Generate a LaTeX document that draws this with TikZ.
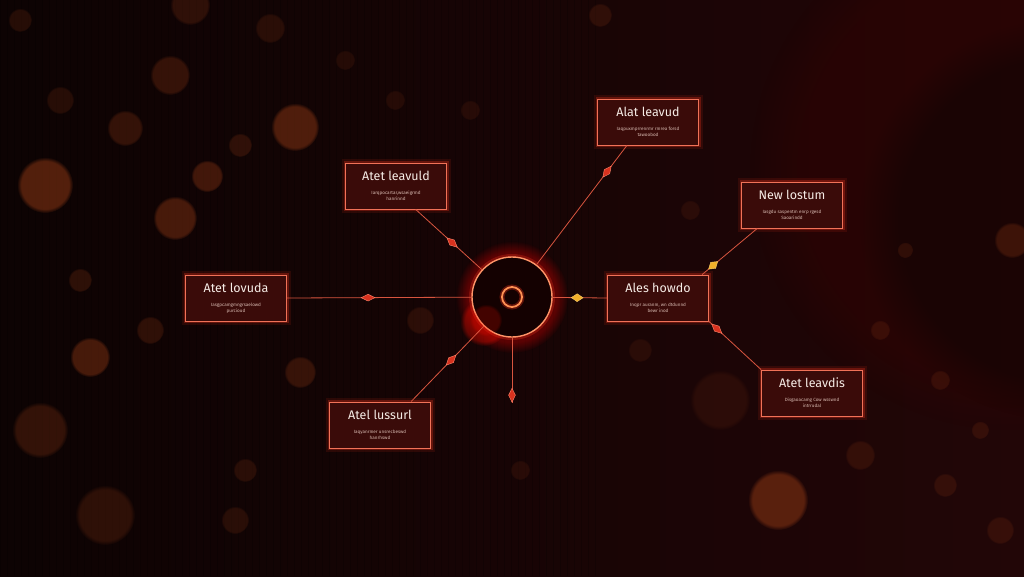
\documentclass[tikz,border=0pt]{standalone}
\usepackage{fontspec}
\setmainfont{Fira Sans}
\usetikzlibrary{shapes.geometric,fadings,calc}
\definecolor{bg}{HTML}{120404}
\definecolor{bgr}{HTML}{220607}
\definecolor{bokeh}{HTML}{8C3714}
\definecolor{boxfill}{HTML}{3A0B09}
\definecolor{boxline}{HTML}{F07258}
\definecolor{glow}{HTML}{E8301A}
\definecolor{wire}{HTML}{D8553F}
\definecolor{mark}{HTML}{D8321F}
\definecolor{markl}{HTML}{FF8A70}
\definecolor{gold}{HTML}{F2B02A}
\definecolor{ring}{HTML}{FF9468}
\definecolor{ttl}{HTML}{F6ECE6}
\definecolor{sub}{HTML}{D9BBB2}
\tikzset{
  infobox/.style={rectangle, draw=boxline, line width=0.9pt, fill=boxfill,
    minimum width=101pt, minimum height=46pt, inner sep=2pt, align=center,
    preaction={draw=glow, line width=8pt, opacity=0.12},
    preaction={draw=glow, line width=4pt, opacity=0.3}},
  wireline/.style={draw=wire, line width=0.8pt},
  markr/.style={diamond, sloped, inner sep=0pt, minimum width=14pt, minimum height=7pt,
    fill=mark, draw=markl, line width=0.4pt},
  marky/.style={diamond, sloped, inner sep=0pt, minimum width=12pt, minimum height=8pt,
    fill=gold, draw=gold!70!white, line width=0.4pt},
}
\newcommand{\boxtext}[3]{\fontsize{12.5}{14}\selectfont\color{ttl}#1\\[2pt]%
  \fontsize{4.6}{5.4}\selectfont\color{sub}#2\\[-6pt]\fontsize{4.6}{5.4}\selectfont\color{sub}#3}
\begin{document}
\begin{tikzpicture}[x=1pt,y=-1pt]
\useasboundingbox (0,0) rectangle (1024,576);
% background
\shade[left color=bg!70!black, right color=bgr] (0,0) rectangle (1024,576);
\fill[bgr!80!red!60!black, path fading=circle with fuzzy edge 20 percent, opacity=0.55] (1010,170) circle (260pt);
\fill[bg, path fading=circle with fuzzy edge 20 percent, opacity=0.6] (1060,220) circle (200pt);
\foreach \x in {0,7,...,600} \draw[black, opacity=0.18, line width=0.6pt] (\x,0) -- (\x,576);
% bokeh
\foreach \x/\y/\r/\o in {45/185/28/0.55, 175/218/22/0.45, 90/357/20/0.45, 295/127/24/0.5,
  170/75/20/0.3, 207/176/16/0.4, 125/128/18/0.3, 240/145/12/0.25, 60/100/14/0.2,
  150/330/14/0.25, 80/280/12/0.25, 300/372/16/0.3, 420/320/14/0.2, 778/500/30/0.55,
  40/430/28/0.3, 105/515/30/0.25, 270/28/15/0.2, 190/5/20/0.25, 1012/240/18/0.3,
  860/455/15/0.2, 720/400/30/0.15, 940/380/10/0.2, 880/330/10/0.2, 1000/530/14/0.2,
  640/350/12/0.15, 520/470/10/0.15, 945/485/12/0.2, 600/15/12/0.2, 470/110/10/0.15,
  395/100/10/0.15, 235/520/14/0.2, 20/20/12/0.2, 345/60/10/0.15, 905/250/8/0.2,
  980/430/9/0.2, 245/470/12/0.2, 690/210/10/0.15}
  \fill[bokeh, opacity=\o, path fading=circle with fuzzy edge 15 percent] (\x,\y) circle (\r pt);
% center glow
\fill[red!85!black, path fading=circle with fuzzy edge 20 percent, opacity=0.35] (512,297) circle (56pt);
\fill[red!90!orange, path fading=circle with fuzzy edge 20 percent, opacity=0.35] (484,322) circle (24pt);
% nodes
\node[circle, minimum size=80pt, inner sep=0pt, fill=bg!80!red!30!black, draw=ring, line width=1.4pt,
  preaction={draw=glow, line width=6pt, opacity=0.3}] (c) at (512,297) {};
\fill[red!90!orange, path fading=circle with fuzzy edge 20 percent, opacity=0.2] (486,320) circle (16pt);
\node[circle, minimum size=20pt, inner sep=0pt, draw=ring!80!orange, line width=1.8pt,
  preaction={draw=glow, line width=5pt, opacity=0.35}] (ci) at (512,297) {};
\node[infobox] (b1) at (648,122) {\boxtext{Alat leavud}{Iaqpuxmprrenrmr rmrea forsd}{tawoobod}};
\node[infobox] (b2) at (396,186) {\boxtext{Atet leavuld}{Iarqpocartar,wsaeigrmd}{hanrinnd}};
\node[infobox] (b3) at (792,205) {\boxtext{New lostum}{Iasgdu saspentm enrp rgesd}{Saoarindd}};
\node[infobox] (b4) at (236,298) {\boxtext{Atet lovuda}{Iasgpcamgmngrsaelowd}{purcioud}};
\node[infobox] (b5) at (658,298) {\boxtext{Ales howdo}{Inqpr auranm, wn dtdunnd}{bewr inod}};
\node[infobox] (b6) at (812,393) {\boxtext{Atet leavdis}{Disgaoacamg Cow wsswnd}{intrrudal}};
\node[infobox] (b7) at (380,425) {\boxtext{Atel lussurl}{Iaqyanrmer unsrecbeswd}{hanrhswd}};
\coordinate (d) at (512,403);
% connectors
\draw[wireline] (b1.-132) -- node[markr, pos=0.22]{} (c);
\draw[wireline] (b2.-50) -- node[markr, pos=0.55]{} (c);
\draw[wireline] (b4.east) -- node[markr, pos=0.44]{} (c);
\draw[wireline] (b5.west) -- node[marky, pos=0.55]{} (c);
\draw[wireline] (b3.-146) -- node[marky, pos=0.8]{} (b5.28);
\draw[wireline] (b5.south east) -- node[markr, pos=0.15]{} (b6.north west);
\draw[wireline] (b7.37) -- node[markr, pos=0.55]{} (c);
\draw[wireline] (c.south) -- node[markr, pos=0.88]{} (d);
\end{tikzpicture}
\end{document}
